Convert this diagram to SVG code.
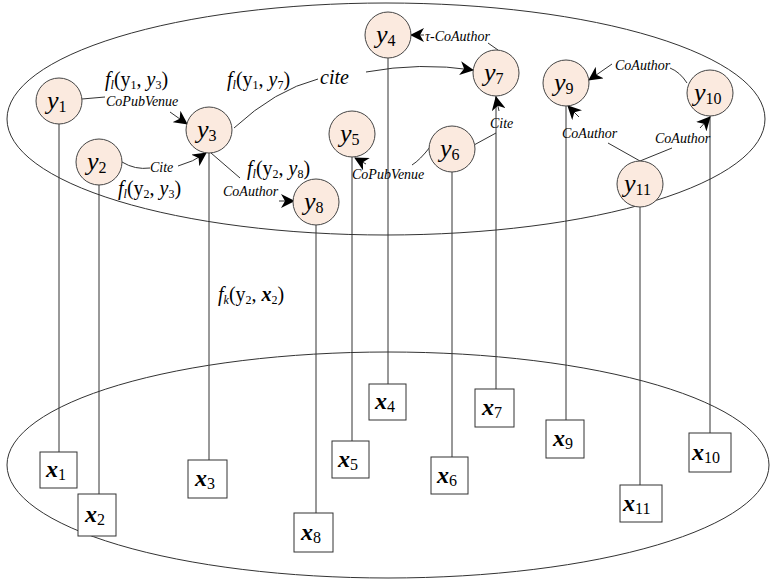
<svg xmlns="http://www.w3.org/2000/svg" width="777" height="585" viewBox="0 0 777 585">
<style>
.n{fill:#fbeadf;stroke:#444;stroke-width:1}
.b{fill:#fff;stroke:#333;stroke-width:1}
.l{fill:none;stroke:#333;stroke-width:1}
.t{font-family:"Liberation Serif",serif;font-style:italic;font-size:26px;fill:#000}
.s{font-size:16px;font-style:normal}
.x{font-family:"Liberation Serif",serif;font-style:italic;font-weight:bold;font-size:24px}
.e{font-family:"Liberation Serif",serif;font-style:italic;font-size:14px}
.f{font-family:"Liberation Serif",serif;font-size:20px}
</style>
<defs><marker id="a" markerWidth="14" markerHeight="14" refX="13" refY="7" orient="auto" markerUnits="userSpaceOnUse"><path d="M0,0 L14,7 L0,14 L4,7 Z" fill="#000"/></marker></defs>
<ellipse cx="386" cy="119" rx="379" ry="116" class="l"/>
<ellipse cx="388" cy="465" rx="381" ry="113" class="l"/>
<g id="connectors" class="l">
<path d="M59,124 V452"/><path d="M99,185 V494"/><path d="M209,153 V460"/><path d="M388,58 V384"/>
<path d="M352,157 V441"/><path d="M452,172 V457"/><path d="M496,96 V389"/><path d="M316,225 V513"/>
<path d="M566,106 V420"/><path d="M710,116 V433"/><path d="M640,207 V485"/>
<path d="M82,99 L105,97"/><path d="M170,112 L187,124" marker-end="url(#a)"/>
<path d="M122,162 Q135,170 150,168"/><path d="M178,166 Q193,162 206,153" marker-end="url(#a)"/>
<path d="M211,153 L240,178"/><path d="M279,201 L294,201" marker-end="url(#a)"/>
<path d="M234,128 Q275,90 318,79"/><path d="M366,72 Q420,62 473,70" marker-end="url(#a)"/>
<path d="M498,50 L488,43"/><path d="M424,35 L411,35" marker-end="url(#a)"/>
<path d="M430,147 Q420,160 412,165"/><path d="M366,164 L355,158" marker-end="url(#a)"/>
<path d="M474,145 L496,133"/><path d="M499,111 L496,97" marker-end="url(#a)"/>
<path d="M687,83 Q680,72 670,68"/><path d="M612,64 L589,80" marker-end="url(#a)"/>
<path d="M640,161 L608,143"/><path d="M579,117 L568,106" marker-end="url(#a)"/>
<path d="M640,161 L672,148"/><path d="M700,128 L710,117" marker-end="url(#a)"/>
</g>
<g id="y1"><circle cx="59" cy="101" r="23" class="n"/><text x="47" y="109" class="t">y<tspan class="s" dy="3">1</tspan></text></g>
<g id="y2"><circle cx="99" cy="162" r="23" class="n"/><text x="87" y="170" class="t">y<tspan class="s" dy="3">2</tspan></text></g>
<g id="y3"><circle cx="209" cy="130" r="23" class="n"/><text x="197" y="138" class="t">y<tspan class="s" dy="3">3</tspan></text></g>
<g id="y4"><circle cx="388" cy="35" r="23" class="n"/><text x="376" y="43" class="t">y<tspan class="s" dy="3">4</tspan></text></g>
<g id="y5"><circle cx="352" cy="134" r="23" class="n"/><text x="340" y="142" class="t">y<tspan class="s" dy="3">5</tspan></text></g>
<g id="y6"><circle cx="452" cy="149" r="23" class="n"/><text x="440" y="157" class="t">y<tspan class="s" dy="3">6</tspan></text></g>
<g id="y7"><circle cx="496" cy="73" r="23" class="n"/><text x="484" y="81" class="t">y<tspan class="s" dy="3">7</tspan></text></g>
<g id="y8"><circle cx="316" cy="202" r="23" class="n"/><text x="304" y="210" class="t">y<tspan class="s" dy="3">8</tspan></text></g>
<g id="y9"><circle cx="566" cy="83" r="23" class="n"/><text x="554" y="91" class="t">y<tspan class="s" dy="3">9</tspan></text></g>
<g id="y10"><circle cx="710" cy="93" r="23" class="n"/><text x="694" y="101" class="t">y<tspan class="s" dy="3">10</tspan></text></g>
<g id="y11"><circle cx="640" cy="184" r="23" class="n"/><text x="624" y="192" class="t">y<tspan class="s" dy="3">11</tspan></text></g>
<g id="x1"><rect x="40" y="452" width="37" height="36" class="b"/><text x="46" y="477" class="x">x<tspan class="s" font-weight="normal" font-style="normal" dy="3">1</tspan></text></g>
<g id="x2"><rect x="78" y="494" width="38" height="42" class="b"/><text x="85" y="522" class="x">x<tspan class="s" font-weight="normal" font-style="normal" dy="3">2</tspan></text></g>
<g id="x3"><rect x="188" y="460" width="39" height="38" class="b"/><text x="195" y="486" class="x">x<tspan class="s" font-weight="normal" font-style="normal" dy="3">3</tspan></text></g>
<g id="x4"><rect x="369" y="384" width="37" height="36" class="b"/><text x="375" y="409" class="x">x<tspan class="s" font-weight="normal" font-style="normal" dy="3">4</tspan></text></g>
<g id="x5"><rect x="332" y="441" width="37" height="37" class="b"/><text x="338" y="467" class="x">x<tspan class="s" font-weight="normal" font-style="normal" dy="3">5</tspan></text></g>
<g id="x6"><rect x="431" y="457" width="37" height="37" class="b"/><text x="437" y="483" class="x">x<tspan class="s" font-weight="normal" font-style="normal" dy="3">6</tspan></text></g>
<g id="x7"><rect x="475" y="389" width="39" height="38" class="b"/><text x="482" y="415" class="x">x<tspan class="s" font-weight="normal" font-style="normal" dy="3">7</tspan></text></g>
<g id="x8"><rect x="294" y="513" width="39" height="39" class="b"/><text x="301" y="540" class="x">x<tspan class="s" font-weight="normal" font-style="normal" dy="3">8</tspan></text></g>
<g id="x9"><rect x="546" y="420" width="38" height="38" class="b"/><text x="553" y="446" class="x">x<tspan class="s" font-weight="normal" font-style="normal" dy="3">9</tspan></text></g>
<g id="x10"><rect x="689" y="433" width="42" height="39" class="b"/><text x="692" y="460" class="x">x<tspan class="s" font-weight="normal" font-style="normal" dy="3">10</tspan></text></g>
<g id="x11"><rect x="620" y="485" width="42" height="37" class="b"/><text x="623" y="511" class="x">x<tspan class="s" font-weight="normal" font-style="normal" dy="3">11</tspan></text></g>
<g id="labels">
<text x="105" y="86" class="f"><tspan font-style="italic">f</tspan><tspan font-size="12" font-style="italic" dy="3">l</tspan><tspan dy="-3">(y</tspan><tspan font-size="12" dy="3">1</tspan><tspan dy="-3">, </tspan><tspan font-style="italic">y</tspan><tspan font-size="12" dy="3">3</tspan><tspan dy="-3">)</tspan></text>
<text x="106" y="106" class="e">CoPubVenue</text>
<text x="227" y="86" class="f"><tspan font-style="italic">f</tspan><tspan font-size="12" font-style="italic" dy="3">l</tspan><tspan dy="-3">(y</tspan><tspan font-size="12" dy="3">1</tspan><tspan dy="-3">, </tspan><tspan font-style="italic">y</tspan><tspan font-size="12" dy="3">7</tspan><tspan dy="-3">)</tspan></text>
<text x="320" y="84" class="f" font-style="italic">cite</text>
<text x="150" y="172" class="e">Cite</text>
<text x="118" y="195" class="f"><tspan font-style="italic">f</tspan><tspan font-size="12" font-style="italic" dy="3">l</tspan><tspan dy="-3">(y</tspan><tspan font-size="12" dy="3">2</tspan><tspan dy="-3">, </tspan><tspan font-style="italic">y</tspan><tspan font-size="12" dy="3">3</tspan><tspan dy="-3">)</tspan></text>
<text x="247" y="175" class="f"><tspan font-style="italic">f</tspan><tspan font-size="12" font-style="italic" dy="3">l</tspan><tspan dy="-3">(y</tspan><tspan font-size="12" dy="3">2</tspan><tspan dy="-3">, </tspan><tspan font-style="italic">y</tspan><tspan font-size="12" dy="3">8</tspan><tspan dy="-3">)</tspan></text>
<text x="223" y="196" class="e">CoAuthor</text>
<text x="218" y="301" class="f"><tspan font-style="italic">f</tspan><tspan font-size="12" font-style="italic" dy="3">k</tspan><tspan dy="-3">(y</tspan><tspan font-size="12" dy="3">2</tspan><tspan dy="-3">, </tspan><tspan font-style="italic" font-weight="bold">x</tspan><tspan font-size="12" dy="3">2</tspan><tspan dy="-3">)</tspan></text>
<text x="425" y="41" class="e">τ-CoAuthor</text>
<text x="352" y="179" class="e">CoPubVenue</text>
<text x="490" y="128" class="e">Cite</text>
<text x="615" y="70" class="e">CoAuthor</text>
<text x="562" y="138" class="e">CoAuthor</text>
<text x="655" y="143" class="e">CoAuthor</text>
</g>
</svg>
